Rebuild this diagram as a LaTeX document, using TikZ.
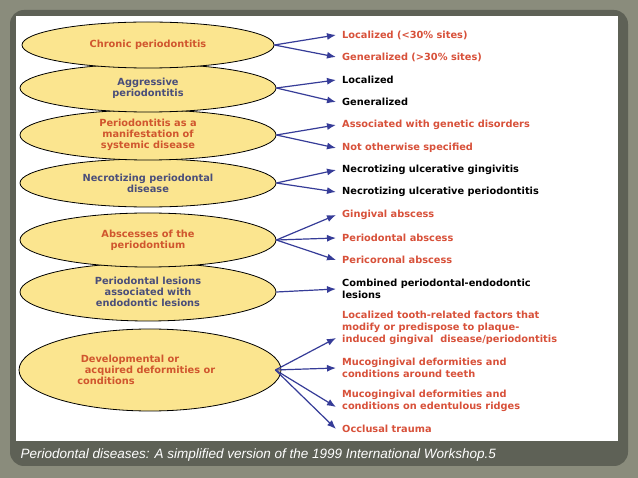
\documentclass[tikz,border=0pt]{standalone}
\usepackage{fontspec}
\setmainfont{Liberation Sans}
\newfontfamily\boxfont{DejaVu Sans}
\usetikzlibrary{arrows.meta,shapes.geometric}
\tikzset{>={Latex[length=9,width=7]}}
\definecolor{bgolive}{HTML}{8A8C7C}
\definecolor{panelgrey}{HTML}{5E6156}
\definecolor{ovalfill}{HTML}{FBE58F}
\definecolor{orangetxt}{HTML}{D0562E}
\definecolor{bluetxt}{HTML}{4A4E7A}
\definecolor{redtxt}{HTML}{D8513A}
\definecolor{arrowblue}{HTML}{363C98}
\begin{document}
\begin{tikzpicture}[x=1pt,y=-1pt,
    oval/.style={ellipse,draw=black,thick,fill=ovalfill,inner sep=0,font=\boxfont\bfseries\fontsize{9.8}{10.8}\selectfont,align=center},
    item/.style={anchor=west,inner sep=0,font=\boxfont\bfseries\fontsize{9.8}{11.8}\selectfont,align=left},
    arrow/.style={->,very thick,arrowblue}]
    \useasboundingbox (0,0) rectangle (638,478);
    \fill[bgolive] (0,0) rectangle (638,478);
    \fill[panelgrey,rounded corners=14] (10,10) rectangle (628,466);
    \fill[white] (16,16) rectangle (618,441);
    \node[anchor=west,text=white,font=\itshape\fontsize{13.5}{14}\selectfont] (cap) at (17,455) {Periodontal diseases: A simplified version of the 1999 International Workshop.5};

    % ovals, bottom first so upper ones overlap
    \node[oval,minimum width=262,minimum height=82,text=orangetxt] (dev) at (150,370) {Developmental or\hspace*{40pt}\\acquired deformities or\hspace*{12pt}\\conditions\hspace*{88pt}};
    \node[oval,minimum width=256,minimum height=58,text=bluetxt] (les) at (148,292) {Periodontal lesions\\associated with\\endodontic lesions};
    \node[oval,minimum width=256,minimum height=54,text=orangetxt] (abs) at (148,240) {Abscesses of the\\periodontium};
    \node[oval,minimum width=256,minimum height=48,text=bluetxt] (nec) at (148,183) {Necrotizing periodontal\\disease};
    \node[oval,minimum width=256,minimum height=50,text=orangetxt] (sys) at (148,135) {Periodontitis as a\\manifestation of\\systemic disease};
    \node[oval,minimum width=256,minimum height=48,text=bluetxt] (agg) at (148,88) {Aggressive\\periodontitis};
    \node[oval,minimum width=252,minimum height=46,text=orangetxt] (chr) at (148,45) {Chronic periodontitis};

    % right-hand items
    \node[item,text=redtxt] (c1) at (342,35) {Localized (<30\% sites)};
    \node[item,text=redtxt] (c2) at (342,57) {Generalized (>30\% sites)};
    \node[item] (a1) at (342,80) {Localized};
    \node[item] (a2) at (342,102) {Generalized};
    \node[item,text=redtxt] (s1) at (342,125) {Associated with genetic disorders};
    \node[item,text=redtxt] (s2) at (342,148) {Not otherwise specified};
    \node[item] (n1) at (342,170) {Necrotizing ulcerative gingivitis};
    \node[item] (n2) at (342,192) {Necrotizing ulcerative periodontitis};
    \node[item,text=redtxt] (b1) at (342,215) {Gingival abscess};
    \node[item,text=redtxt] (b2) at (342,238) {Periodontal abscess};
    \node[item,text=redtxt] (b3) at (342,260) {Pericoronal abscess};
    \node[item] (l1) at (342,289) {Combined periodontal-endodontic\\lesions};
    \node[item,text=redtxt] (d1) at (342,328) {Localized tooth-related factors that\\modify or predispose to plaque-\\induced gingival\ \ disease/periodontitis};
    \node[item,text=redtxt] (d2) at (342,368) {Mucogingival deformities and\\conditions around teeth};
    \node[item,text=redtxt] (d3) at (342,401) {Mucogingival deformities and\\conditions on edentulous ridges};
    \node[item,text=redtxt] (d4) at (342,429) {Occlusal trauma};

    \foreach \o/\t in {chr/c1,chr/c2,agg/a1,agg/a2,sys/s1,sys/s2,nec/n1,nec/n2,abs/b1,abs/b2,abs/b3,les/l1}
        \draw[arrow] (\o.east) -- ([xshift=-6pt]\t.west);
    \foreach \t/\dy in {d1/-10,d2/0,d3/-6,d4/0}
        \draw[arrow] ([xshift=-6pt]dev.east) -- ([xshift=-6pt,yshift=\dy]\t.west);
\end{tikzpicture}
\end{document}
